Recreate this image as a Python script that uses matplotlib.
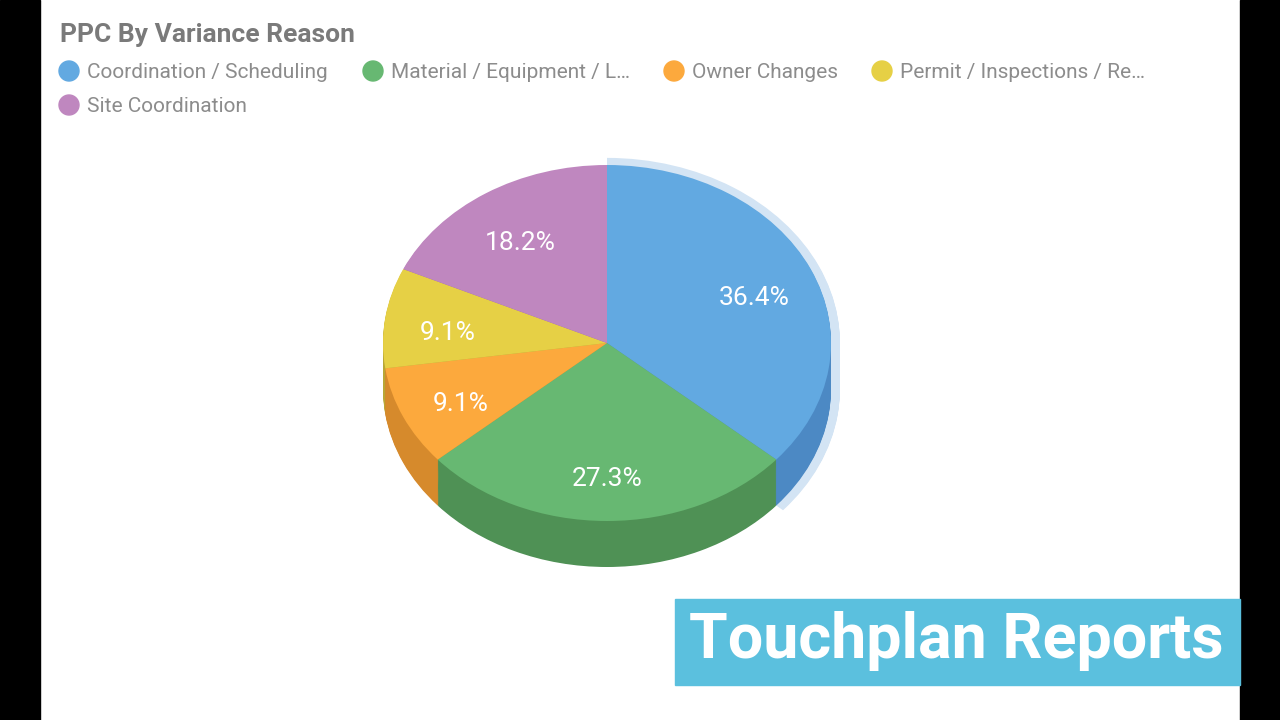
import matplotlib
matplotlib.use("Agg")
import matplotlib.pyplot as plt
from matplotlib.patches import Rectangle, Ellipse

plt.rcParams['font.family'] = ['Roboto', 'DejaVu Sans']

# data
reasons = ["Coordination / Scheduling", "Material / Equipment / L…", "Owner Changes",
           "Permit / Inspections / Re…", "Site Coordination"]
counts = [4, 3, 1, 1, 2]
top_colors = ['#62a9e1', '#67b872', '#fca93d', '#e6d045', '#bf87bf']
side_colors = ['#4c89c4', '#4f9155', '#d68a2c', '#b9a736', '#9a6d9a']
title = "PPC By Variance Reason"
banner = "Touchplan Reports"

W, H = 1280, 720
fig = plt.figure(figsize=(12.8, 7.2), dpi=100)
fig.patch.set_facecolor('white')

# pie geometry in pixels: centre, radii, depth
cx, cy, rx, ry, depth = 607, 343, 224, 178, 46
ax = fig.add_axes([0, 0, 1, 1])
d = depth / ry
n_layers = 48

# highlight ring around the first slice (hover outline)
halo_cols = ['#d3e4f4'] + ['none'] * (len(counts) - 1)
for i in range(n_layers + 1):
    y0 = -d + d * i / n_layers
    ax.pie(counts, colors=halo_cols, startangle=90, counterclock=False,
           radius=1.04, center=(0, y0), wedgeprops=dict(linewidth=0))

# side of the 3d pie
for i in range(n_layers):
    y0 = -d + d * i / n_layers
    ax.pie(counts, colors=side_colors, startangle=90, counterclock=False,
           radius=1.0, center=(0, y0), wedgeprops=dict(linewidth=0))

# top face with labels
wedges, texts, autotexts = ax.pie(counts, colors=top_colors, startangle=90, counterclock=False,
                                  radius=1.0, center=(0, 0), autopct='%1.1f%%', pctdistance=0.72,
                                  wedgeprops=dict(linewidth=0),
                                  textprops=dict(color='white', fontsize=19))
# labels sit a little lower on the tilted face
for t in autotexts:
    x, y = t.get_position()
    t.set_position((x, y - 0.045))

ax.set_aspect('auto')
ax.set_xlim(-cx / rx, (W - cx) / rx)
ax.set_ylim((cy - H) / ry, cy / ry)
ax.axis('off')

# overlay in pixel coordinates for title, legend, banner
ov = fig.add_axes([0, 0, 1, 1], zorder=5)
ov.set_xlim(0, W)
ov.set_ylim(H, 0)
ov.axis('off')
ov.patch.set_alpha(0)

ov.add_patch(Rectangle((0, 0), 40, H, color='black'))
ov.add_patch(Rectangle((1240, 0), 40, H, color='black'))

ov.text(60, 35, title, fontsize=19, fontweight='bold', color='#7a7a7a', va='center', ha='left')

leg_pos = [(69, 71), (373, 71), (674, 71), (882, 71), (69, 105)]
for (lx, ly), name, col in zip(leg_pos, reasons, top_colors):
    ov.add_patch(Ellipse((lx, ly), 20, 20, color=col))
    ov.text(lx + 18, ly + 1, name, fontsize=15, color='#8c8c8c', va='center', ha='left')

ov.add_patch(Rectangle((675, 599), 565, 86, color='#5bc0de'))
ov.text(956, 641, banner, fontsize=45.2, fontweight='bold', color='white', va='center', ha='center')

fig.savefig('out.png', dpi=100)
